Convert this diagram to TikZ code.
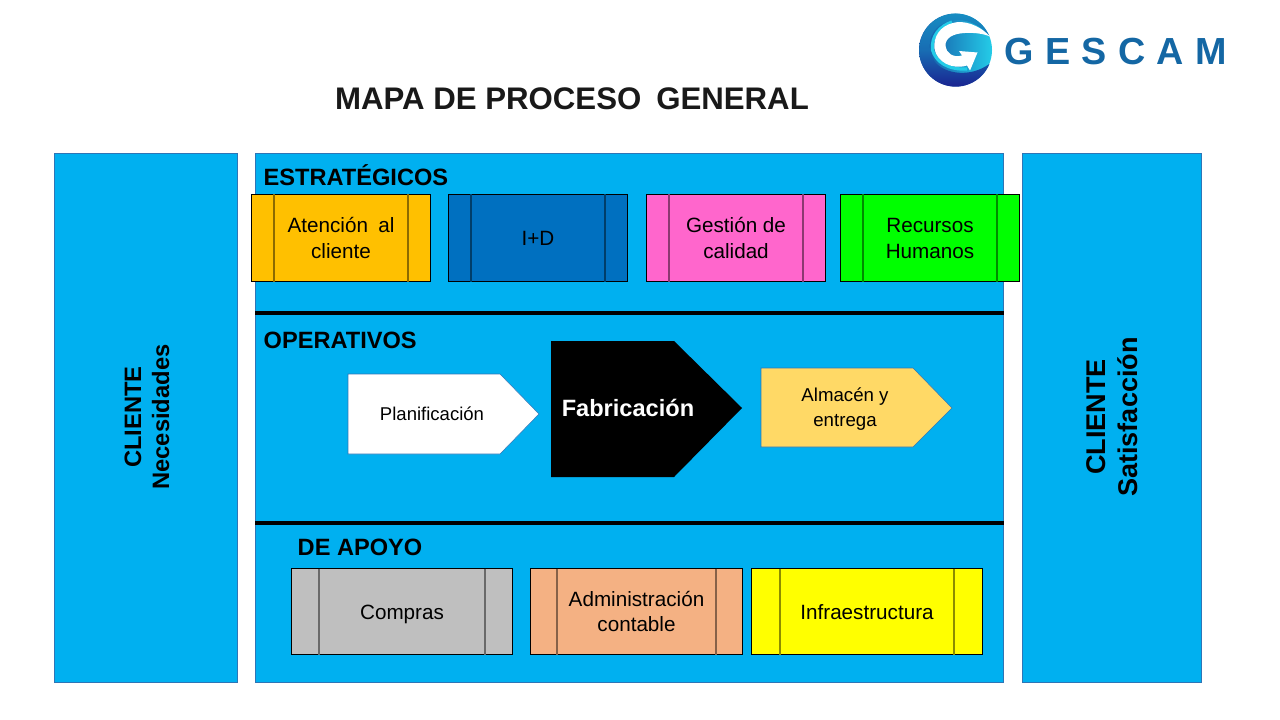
\documentclass[tikz,border=0pt]{standalone}
\usepackage{fontspec}
\setmainfont{Liberation Sans}
\definecolor{panel}{HTML}{00B0F0}
\definecolor{panelline}{HTML}{2E75B6}
\definecolor{logoblue}{HTML}{1467A4}
\definecolor{logonavy}{HTML}{1A1A8C}
\definecolor{logoteal}{HTML}{1790C4}
\definecolor{logocyan}{HTML}{24CCE8}
\definecolor{logomid}{HTML}{1268AC}
\tikzset{
  panelbox/.style={fill=panel,draw=panelline,line width=0.5pt},
  procbox/.style={draw=black,line width=0.75pt},
  divider/.style={draw=black,line width=2.4pt},
  head/.style={font=\bfseries\fontsize{17.7}{20}\selectfont,anchor=west,text=black},
  proctext/.style={align=center,font=\fontsize{15.5}{19}\selectfont,text=black},
  arrowshape/.style={draw=panelline,line width=0.4pt},
  sidetext/.style={rotate=90,align=center,text=black}
}
\newcommand{\procshape}[9]{%
  % name x1 y1 x2 y2 insetL insetR colour text
  \draw[procbox,fill=#8] (#2,#3+0.5) rectangle (#4-0.5,#5-0.5);
  \draw[line width=1pt,draw=#8!55!black] (#2+#6,#3+0.5) -- (#2+#6,#5-0.5);
  \draw[line width=1pt,draw=#8!55!black] (#4-#7,#3+0.5) -- (#4-#7,#5-0.5);
  \node[proctext] (#1) at ({(#2+#4)/2},{(#3+#5)/2+2.5}) {#9};
}
\begin{document}
\begin{tikzpicture}[x=0.75pt,y=-0.75pt]
\useasboundingbox (0,0) rectangle (1280,720);
\fill[white] (0,0) rectangle (1280,720);
% logo
\shade[left color=logomid!70!logonavy,middle color=logomid,right color=logocyan] (955.5,50) circle (36.5);
\shade[top color=logoteal,bottom color=logonavy,middle color=logoteal!70!logonavy]
  (989.5,36.5) arc (-22:-338:36.5) .. controls (970,78) and (945,74) .. (935,62)
  .. controls (926,50) and (928,32) .. (942,24) .. controls (958,15) and (978,22) .. (989.5,36.5) -- cycle;
\draw[logocyan,line width=2.4pt] (967,69) .. controls (948,70) and (936,62) .. (932.5,50)
  .. controls (931,36) and (940,26) .. (952,22);
\fill[white] (990,36.5)
  .. controls (978,24) and (963,20) .. (953,23)
  .. controls (940,26) and (933,37) .. (934.5,49)
  .. controls (937,62) and (952,70) .. (967,65.5)
  -- (970,70.5) -- (977.5,52.5) -- (959,51) -- (962,55.5)
  .. controls (953,58) and (946,53) .. (945.5,46)
  .. controls (945,38) and (953,33.5) .. (965,33)
  .. controls (974,32.5) and (983,33.5) .. (990,36.5) -- cycle;
\node[font=\bfseries\fontsize{28.3}{30}\selectfont,text=logoblue,anchor=west] (gescam) at (1000,52) {G\hspace{0.30em}E\hspace{0.30em}S\hspace{0.30em}C\hspace{0.30em}A\hspace{0.30em}M};
% title
\node[font=\bfseries\fontsize{23.4}{28}\selectfont,text=black!90,anchor=center] (title) at (572,99) {MAPA DE PROCESO\hspace{0.2em} GENERAL};
% panels
\draw[panelbox] (54,153) rectangle (237.5,682);
\draw[panelbox] (255,153) rectangle (1003.5,682);
\draw[panelbox] (1022,153) rectangle (1201.5,682);
\draw[divider] (255,313) -- (1003.5,313);
\draw[divider] (255,523) -- (1003.5,523);
% side text
\node[sidetext,font=\bfseries\fontsize{17.8}{21}\selectfont] (left) at (147,417) {CLIENTE\\Necesidades};
\node[sidetext,font=\bfseries\fontsize{20.3}{24}\selectfont] (right) at (1112,417) {CLIENTE\\Satisfacción};
% headings
\node[head] (est) at (259,175) {ESTRATÉGICOS};
\node[head] (ope) at (259,340) {OPERATIVOS};
\node[head] (apo) at (293,547) {DE APOYO};
% strategic
\definecolor{cA}{HTML}{FFC000}\definecolor{cB}{HTML}{0070C0}\definecolor{cC}{HTML}{FF66CC}\definecolor{cD}{HTML}{00FF00}
\definecolor{cE}{HTML}{BFBFBF}\definecolor{cF}{HTML}{F4B183}\definecolor{cG}{HTML}{FFFF00}
\procshape{aten}{251}{194}{431}{282}{23}{23}{cA}{\strut Atención\hspace{0.5em}al\\\strut cliente}
\procshape{imasd}{448}{194}{628}{282}{23}{23}{cB}{\strut I+D}
\procshape{gest}{646}{194}{826}{282}{23}{23}{cC}{\strut Gestión de\\\strut calidad}
\procshape{rrhh}{840}{194}{1020}{282}{23}{23}{cD}{\strut Recursos\\\strut Humanos}
% operative
\definecolor{cH}{HTML}{FFD966}
\draw[arrowshape,fill=white] (348,374) -- (500,374) -- (539,414) -- (500,454) -- (348,454) -- cycle;
\node[font=\fontsize{13.9}{16}\selectfont] (plan) at (432,416.5) {\strut Planificación};
\fill[black] (551,341) -- (674,341) -- (742,408) -- (674,477) -- (551,477) -- cycle;
\node[font=\bfseries\fontsize{17.7}{20}\selectfont,text=white] (fab) at (628,411.5) {\strut Fabricación};
\draw[arrowshape,fill=cH] (761,368) -- (913,368) -- (952,408) -- (913,447) -- (761,447) -- cycle;
\node[align=center,font=\fontsize{14}{18.5}\selectfont] (alm) at (845,409) {\strut Almacén y\\\strut entrega};
% support
\procshape{comp}{291}{568}{513}{655}{28}{28}{cE}{\strut Compras}
\procshape{admi}{530}{568}{743}{655}{27}{27}{cF}{\strut Administración\\\strut contable}
\procshape{infr}{751}{568}{983}{655}{29}{29}{cG}{\strut Infraestructura}
\end{tikzpicture}
\end{document}
